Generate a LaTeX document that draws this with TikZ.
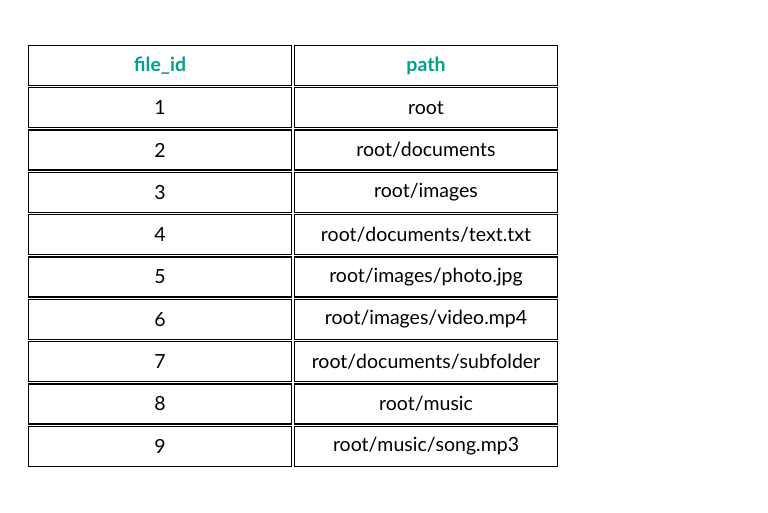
\documentclass[tikz,border=0pt]{standalone}
\usepackage{fontspec}
\setmainfont{Lato}
\definecolor{teal1}{RGB}{0,160,140}
\begin{document}
\begin{tikzpicture}[x=1pt,y=-1pt,
  cell/.style={draw=black,line width=1.3pt,minimum height=40pt,inner sep=0pt,font=\fontsize{19.5}{21}\selectfont},
  lcell/.style={cell,minimum width=263pt},
  rcell/.style={cell,minimum width=263pt},
  head/.style={text=teal1,font=\fontsize{19.5}{21}\selectfont\bfseries}]
\useasboundingbox[fill=white] (0,0) rectangle (768,512);
\node[lcell,head] (l0) at (160,65.5) {file\_id};
\node[rcell,head] (r0) at (426,65.5) {path};
\foreach \i/\a/\b in {1/1/root,2/2/root\slash documents,3/3/root\slash images,4/4/root\slash documents\slash text.txt,5/5/root\slash images\slash photo.jpg,6/6/root\slash images\slash video.mp4,7/7/root\slash documents\slash subfolder,8/8/root\slash music,9/9/root\slash music\slash song.mp3}{
  \node[lcell] (l\i) at (160,65.5+42.3*\i) {\a};
  \node[rcell] (r\i) at (426,65.5+42.3*\i) {\b};
}
\end{tikzpicture}
\end{document}
